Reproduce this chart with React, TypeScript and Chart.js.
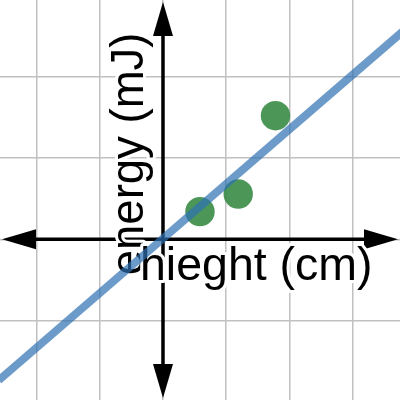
import React, { useEffect, useRef } from "react";
import { Chart, registerables } from "chart.js";

Chart.register(...registerables);

// Measured points (height vs energy)
const pointX = [0.585, 1.19, 1.78];
const pointY = [0.34, 0.557, 1.52];

// Fitted line, end points
const lineX = [-2.6, 3.8];
const lineY = [-1.735, 2.56];

// Grid values
const xGridValues = [-2, -1, 0, 1, 2, 3];
const yGridValues = [-1, 0, 1, 2];

// View window
const xMin = -2.579;
const xMax = 3.75;
const yMin = -1.977;
const yMax = 2.943;

const xLabel = "hieght (cm)";
const yLabel = "energy (mJ)";

const FONT_X = '46.5px "Liberation Sans", Arial, sans-serif';
const FONT_Y = '45.5px "Liberation Sans", Arial, sans-serif';

const axesPlugin = {
  id: "desmosAxes",
  beforeDatasetsDraw(chart: any) {
    const { ctx, chartArea, scales } = chart;
    const xs = scales.x;
    const ys = scales.y;
    const x0 = xs.getPixelForValue(0);
    const y0 = ys.getPixelForValue(0);
    const L = chartArea.left;
    const R = chartArea.right;
    const T = chartArea.top;
    const B = chartArea.bottom;
    const tipGap = 2;
    const aLen = 34;
    const aHalf = 10;
    ctx.save();
    ctx.strokeStyle = "#000";
    ctx.fillStyle = "#000";
    ctx.lineWidth = 3.5;
    // horizontal axis
    ctx.beginPath();
    ctx.moveTo(L + tipGap + aLen - 2, y0);
    ctx.lineTo(R - tipGap - aLen + 2, y0);
    ctx.stroke();
    // vertical axis
    ctx.beginPath();
    ctx.moveTo(x0, T + tipGap + aLen - 2);
    ctx.lineTo(x0, B - tipGap - aLen + 2);
    ctx.stroke();
    const tri = (pts: number[][]) => {
      ctx.beginPath();
      ctx.moveTo(pts[0][0], pts[0][1]);
      ctx.lineTo(pts[1][0], pts[1][1]);
      ctx.lineTo(pts[2][0], pts[2][1]);
      ctx.closePath();
      ctx.fill();
    };
    tri([[L + tipGap, y0], [L + tipGap + aLen, y0 - aHalf], [L + tipGap + aLen, y0 + aHalf]]);
    tri([[R - tipGap, y0], [R - tipGap - aLen, y0 - aHalf], [R - tipGap - aLen, y0 + aHalf]]);
    tri([[x0, T + tipGap], [x0 - aHalf, T + tipGap + aLen], [x0 + aHalf, T + tipGap + aLen]]);
    tri([[x0, B - tipGap], [x0 - aHalf, B - tipGap - aLen], [x0 + aHalf, B - tipGap - aLen]]);

    // labels with white halo
    ctx.textAlign = "left";
    ctx.textBaseline = "alphabetic";
    ctx.lineJoin = "round";
    ctx.strokeStyle = "#fff";
    ctx.lineWidth = 6;

    ctx.save();
    ctx.font = FONT_Y;
    ctx.translate(x0 - 20, y0 + 36);
    ctx.rotate(-Math.PI / 2);
    ctx.strokeText(yLabel, 0, 0);
    ctx.fillText(yLabel, 0, 0);
    ctx.restore();

    ctx.font = FONT_X;
    ctx.strokeText(xLabel, x0 - 23, y0 + 41);
    ctx.fillText(xLabel, x0 - 23, y0 + 41);
    ctx.restore();
  },
};

export default function App() {
  const ref = useRef<HTMLCanvasElement | null>(null);
  useEffect(() => {
    if (!ref.current) return;
    const chart = new Chart(ref.current, {
      type: "scatter",
      data: {
        datasets: [
          {
            type: "line",
            data: lineX.map((x, i) => ({ x, y: lineY[i] })),
            borderColor: "rgba(45,112,179,0.7)",
            borderWidth: 8,
            pointRadius: 0,
            fill: false,
          } as any,
          {
            data: pointX.map((x, i) => ({ x, y: pointY[i] })),
            backgroundColor: "rgba(56,140,70,0.9)",
            borderWidth: 0,
            pointRadius: 14.7,
          },
        ],
      },
      plugins: [axesPlugin],
      options: {
        animation: false,
        responsive: false,
        layout: { padding: 0, autoPadding: false },
        plugins: { legend: { display: false }, tooltip: { enabled: false } },
        scales: {
          x: {
            type: "linear",
            min: xMin,
            max: xMax,
            ticks: { display: false },
            border: { display: false },
            grid: { color: "#c0c0c0", lineWidth: 1.5, drawTicks: false, tickLength: 0 },
            afterBuildTicks: (s: any) => {
              s.ticks = xGridValues.map((v) => ({ value: v }));
            },
          },
          y: {
            type: "linear",
            min: yMin,
            max: yMax,
            ticks: { display: false },
            border: { display: false },
            grid: { color: "#c0c0c0", lineWidth: 1.5, drawTicks: false, tickLength: 0 },
            afterBuildTicks: (s: any) => {
              s.ticks = yGridValues.map((v) => ({ value: v }));
            },
          },
        },
      },
    });
    return () => chart.destroy();
  }, []);
  return (
    <div style={{ position: "absolute", left: 0, top: 0, width: 400, height: 400, background: "#fff" }}>
      <canvas ref={ref} width={400} height={400} style={{ width: 400, height: 400, display: "block" }} />
    </div>
  );
}
